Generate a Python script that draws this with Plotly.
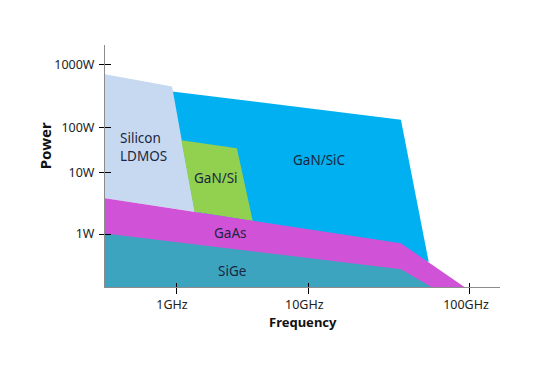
import plotly.graph_objects as go

# Axis units: log-decade positions read from the schematic (1 GHz = 0, 1 W = 0)
x_tick_vals = [0.0, 1.0, 2.222]
x_tick_text = ["1GHz", "10GHz", "100GHz"]
y_tick_vals = [0.0, 1.0, 1.729, 2.739]
y_tick_text = ["1W", "10W", "100W", "1000W"]

x_range = [-0.537, 2.449]
y_range = [-0.859, 3.063]

# Technology regions (polygon vertices in axis units)
gansic_x = [-0.03, 1.70, 1.91, 0.14]
gansic_y = [2.31, 1.85, -0.45, 0.36]

ldmos_x = [-0.537, -0.03, 0.14, -0.537]
ldmos_y = [2.59, 2.39, 0.36, 0.58]

gansi_x = [0.04, 0.46, 0.58, 0.14]
gansi_y = [1.52, 1.39, 0.21, 0.36]

gaas_x = [-0.537, 1.70, 2.18, -0.537]
gaas_y = [0.58, -0.15, -0.859, -0.859]

sige_x = [-0.537, 1.70, 1.93, -0.537]
sige_y = [0.01, -0.57, -0.859, -0.859]

regions = [
    ("GaN/SiC", gansic_x, gansic_y, "#00B0F0"),
    ("Silicon LDMOS", ldmos_x, ldmos_y, "#C6D9F1"),
    ("GaN/Si", gansi_x, gansi_y, "#92D050"),
    ("GaAs", gaas_x, gaas_y, "#D052D6"),
    ("SiGe", sige_x, sige_y, "#3DA4C0"),
]

label_text = ["Silicon<br>LDMOS", "GaN/Si", "GaN/SiC", "GaAs", "SiGe"]
label_x = [-0.44, 0.301, 1.083, 0.408, 0.425]
label_y = [1.408, 0.903, 1.199, 0.011, -0.600]
label_anchor = ["left", "center", "center", "center", "center"]

FONT = "Noto Sans"
LABEL_COLOR = "#1B2640"

fig = go.Figure()
for name, xs, ys, col in regions:
    fig.add_trace(go.Scatter(
        x=xs, y=ys, fill="toself", mode="lines", line=dict(width=0, color=col),
        fillcolor=col, name=name, hoverinfo="skip", showlegend=False,
    ))

# dummy trace so the overlay axes (inside tick halves) are drawn
fig.add_trace(go.Scatter(x=[x_range[0]], y=[y_range[0]], xaxis="x2", yaxis="y2",
                         mode="markers", marker=dict(opacity=0), showlegend=False,
                         hoverinfo="skip"))

for t, x, y, a in zip(label_text, label_x, label_y, label_anchor):
    fig.add_annotation(x=x, y=y, text=t, showarrow=False, xanchor=a, yanchor="middle",
                       align="left", font=dict(family=FONT, size=13.5, color=LABEL_COLOR))

fig.add_annotation(x=-0.1499, y=0.585, xref="paper", yref="paper", text="<b>Power</b>",
                   textangle=-90, showarrow=False, xanchor="center", yanchor="middle",
                   font=dict(family=FONT, size=15, color="#111111"))
fig.add_annotation(x=0.502, y=-0.146, xref="paper", yref="paper", text="<b>Frequency</b>",
                   showarrow=False, xanchor="center", yanchor="middle",
                   font=dict(family=FONT, size=13, color="#111111"))

tickfont = dict(family=FONT, size=12.5, color="#222222")

# page body has an 8px margin, so the figure is drawn 8px smaller and offset
fig.update_layout(
    width=537, height=365,
    margin=dict(l=97, r=45, t=37, b=86),
    paper_bgcolor="white", plot_bgcolor="white",
    showlegend=False,
    xaxis=dict(range=x_range, showgrid=False, zeroline=False, showline=True,
               linecolor="#8C8C8C", linewidth=1, ticks="outside", ticklen=6,
               tickcolor="#000000", tickwidth=1, tickvals=x_tick_vals,
               ticktext=x_tick_text, tickfont=tickfont, ticklabelshift=-4,
               fixedrange=True),
    yaxis=dict(range=y_range, showgrid=False, zeroline=False, showline=True,
               linecolor="#8C8C8C", linewidth=1, ticks="outside", ticklen=5,
               tickcolor="#000000", tickwidth=1, tickvals=y_tick_vals,
               ticktext=y_tick_text, tickfont=tickfont, ticklabelstandoff=2,
               fixedrange=True),
    xaxis2=dict(range=x_range, overlaying="x", anchor="y2", showgrid=False,
                zeroline=False, showline=False, ticks="inside", ticklen=4,
                tickcolor="#000000", tickwidth=1, tickvals=x_tick_vals,
                showticklabels=False, side="bottom", fixedrange=True),
    yaxis2=dict(range=y_range, overlaying="y", anchor="x2", showgrid=False,
                zeroline=False, showline=False, ticks="inside", ticklen=6,
                tickcolor="#000000", tickwidth=1, tickvals=y_tick_vals,
                showticklabels=False, side="left", fixedrange=True),
)

fig.write_html("out.html", config={"displayModeBar": False})
